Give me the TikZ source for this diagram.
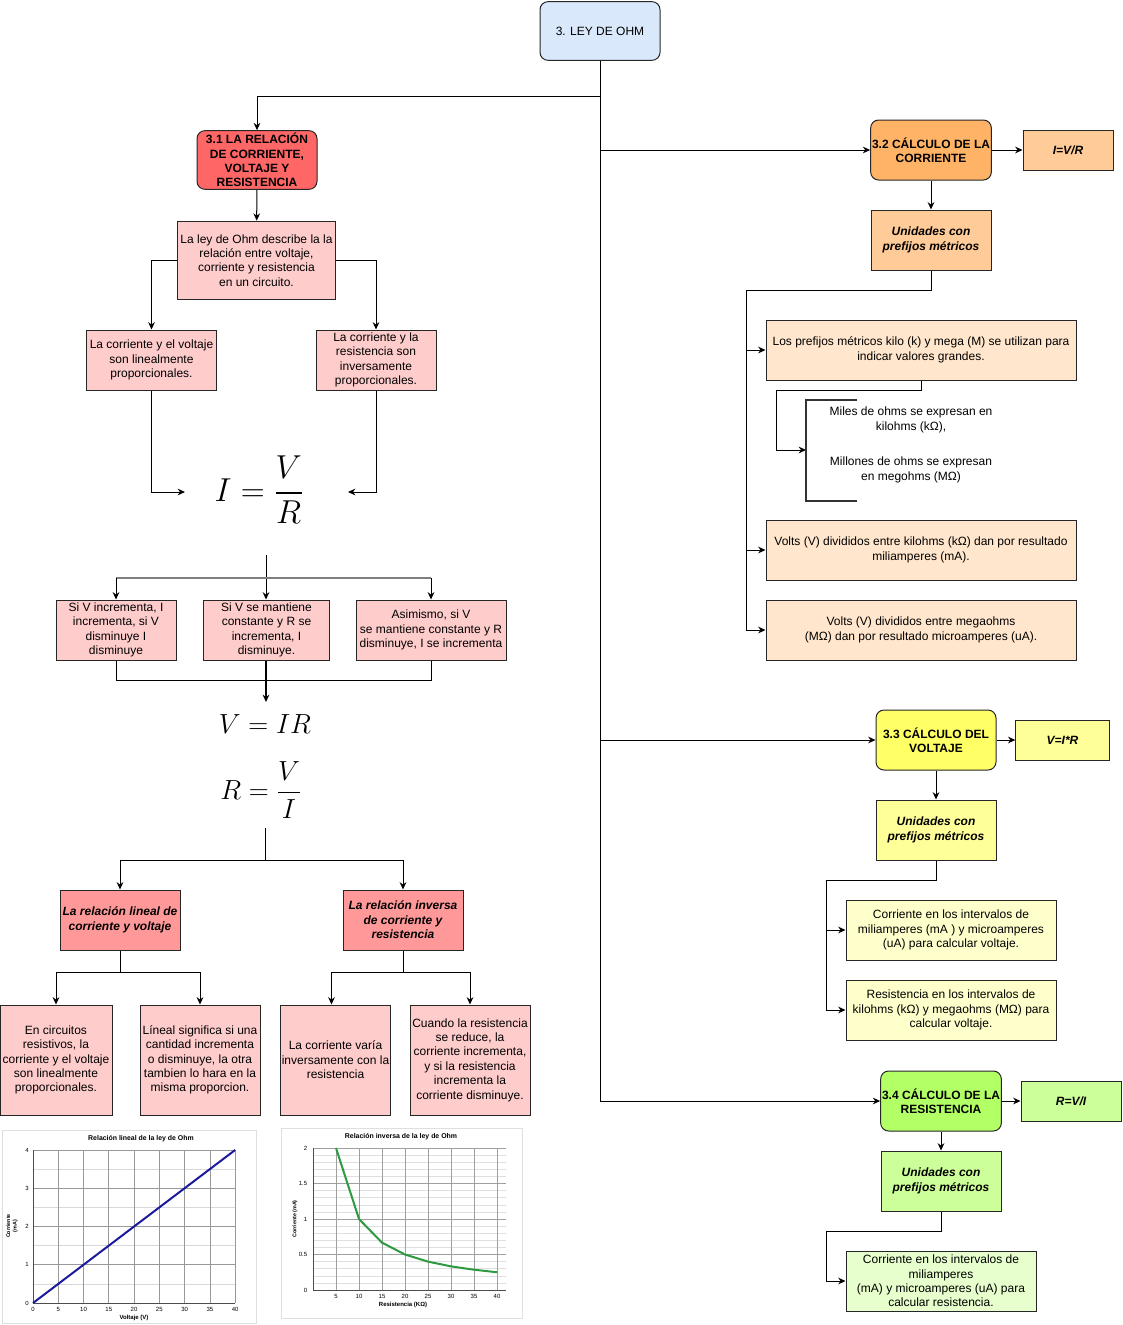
\documentclass[tikz,border=0pt]{standalone}
\usepackage{amsmath}
\usepackage{fontspec}
\setmainfont{Liberation Sans}
\usetikzlibrary{positioning, arrows.meta}
\usepackage{xcolor}
\definecolor{ohmblue}{HTML}{DAE8FC}
\definecolor{redhead}{HTML}{FF6666}
\definecolor{pinkbox}{HTML}{FFCCCC}
\definecolor{redsub}{HTML}{FF9999}
\definecolor{orahead}{HTML}{FFB366}
\definecolor{orabox}{HTML}{FFCC99}
\definecolor{orapale}{HTML}{FFE6CC}
\definecolor{yelhead}{HTML}{FFFF66}
\definecolor{yelbox}{HTML}{FFFF99}
\definecolor{yelpale}{HTML}{FFFFCC}
\definecolor{grnhead}{HTML}{B3FF66}
\definecolor{grnbox}{HTML}{CCFF99}
\definecolor{grnpale}{HTML}{E6FFCC}
\definecolor{linblue}{HTML}{1A1A9C}
\definecolor{invgreen}{HTML}{2E9A40}

\begin{document}
\begin{tikzpicture}[x=0.75pt, y=-0.75pt, line width=0.75pt,
    box/.style={draw=black!85, align=center, inner sep=1pt, font=\fontsize{9}{10.8}\selectfont},
    head/.style={box, rounded corners=6pt, font=\fontsize{9}{10.8}\selectfont\bfseries},
    sub/.style={box, font=\fontsize{9}{10.8}\selectfont\bfseries\itshape},
    plain/.style={align=center, inner sep=1pt, font=\fontsize{9}{10.8}\selectfont},
    eq/.style={inner sep=0pt},
    arr/.style={-{Stealth[length=5.5pt, width=5pt]}},
    chart/.style={font=\fontsize{4.5}{5.4}\selectfont, inner sep=0.5pt},
    charttitle/.style={font=\fontsize{5.2}{6}\selectfont\bfseries, inner sep=0.5pt}]

        \useasboundingbox (0,0) rectangle (1123,1325);

        % Nodes
        \node[head, fill=ohmblue, font=\fontsize{9}{10.8}\selectfont, minimum width=90pt, minimum height=44pt] (ley) at (600,31) {3. LEY DE OHM};

        \node[head, fill=redhead, minimum width=90pt, minimum height=44pt] (r31) at (257,160) {3.1 LA RELACIÓN\\DE CORRIENTE,\\VOLTAJE Y\\RESISTENCIA};
        \node[box, fill=pinkbox, minimum width=119pt, minimum height=59pt] (ohmdesc) at (256.5,260.5) {La ley de Ohm describe la la\\relación entre voltaje,\\corriente y resistencia\\en un circuito.};
        \node[box, fill=pinkbox, minimum width=97pt, minimum height=45pt] (linprop) at (151.5,360) {La corriente y el voltaje\\son linealmente\\proporcionales.};
        \node[box, fill=pinkbox, minimum width=90pt, minimum height=45pt] (invprop) at (376,360) {La corriente y la\\resistencia son\\inversamente\\proporcionales.};
        \node[eq, font=\fontsize{24}{28}\selectfont] (eqI) at (259,490) {$I = \dfrac{V}{R}$};

        \node[box, fill=pinkbox, minimum width=90pt, minimum height=45pt] (si1) at (116,630) {Si V incrementa, I\\incrementa, si V\\disminuye I\\disminuye};
        \node[box, fill=pinkbox, minimum width=94pt, minimum height=45pt] (si2) at (266.5,630) {Si V se mantiene\\constante y R se\\incrementa, I\\disminuye.};
        \node[box, fill=pinkbox, minimum width=112.5pt, minimum height=45pt] (si3) at (431,630) {Asimismo, si V\\se mantiene constante y R\\disminuye, I se incrementa};
        \node[eq, font=\fontsize{20}{24}\selectfont] (eqV) at (265,724) {$V = IR$};
        \node[eq, font=\fontsize{20}{24}\selectfont] (eqR) at (261,790) {$R = \dfrac{V}{I}$};

        \node[sub, fill=redsub, minimum width=90pt, minimum height=45pt] (linrel) at (120,920) {La relación lineal de\\corriente y voltaje};
        \node[sub, fill=redsub, minimum width=90pt, minimum height=45pt] (invrel) at (403,920) {La relación inversa\\de corriente y\\resistencia};
        \node[box, fill=pinkbox, minimum width=84pt, minimum height=82.5pt] (leaf1) at (56,1060) {En circuitos\\resistivos, la\\corriente y el voltaje\\son linealmente\\proporcionales.};
        \node[box, fill=pinkbox, minimum width=90pt, minimum height=82.5pt] (leaf2) at (200,1060) {Líneal significa si una\\cantidad incrementa\\o disminuye, la otra\\tambien lo hara en la\\misma proporcion.};
        \node[box, fill=pinkbox, minimum width=83pt, minimum height=82.5pt] (leaf3) at (335.5,1060) {La corriente varía\\inversamente con la\\resistencia};
        \node[box, fill=pinkbox, minimum width=90pt, minimum height=82.5pt] (leaf4) at (470,1060) {Cuando la resistencia\\se reduce, la\\corriente incrementa,\\y si la resistencia\\incrementa la\\corriente disminuye.};

        \node[head, fill=orahead, minimum width=90pt, minimum height=45pt] (c32) at (931,150) {3.2 CÁLCULO DE LA\\CORRIENTE};
        \node[sub, fill=orabox, minimum width=67.5pt, minimum height=30pt] (fI) at (1068,150) {I=V/R};
        \node[sub, fill=orabox, minimum width=90pt, minimum height=45pt] (u32) at (931,240) {Unidades con\\prefijos métricos};
        \node[box, fill=orapale, minimum width=232.5pt, minimum height=45pt] (p1) at (921,350) {Los prefijos métricos kilo (k) y mega (M) se utilizan para\\indicar valores grandes.};
        \node[plain] (kilo) at (911,420) {Miles de ohms se expresan en\\kilohms (kΩ),};
        \node[plain] (mega) at (911,470) {Millones de ohms se expresan\\en megohms (MΩ)};
        \node[box, fill=orapale, minimum width=232.5pt, minimum height=45pt] (p2) at (921,550) {Volts (V) divididos entre kilohms (kΩ) dan por resultado\\miliamperes (mA).};
        \node[box, fill=orapale, minimum width=232.5pt, minimum height=45pt] (p3) at (921,630) {Volts (V) divididos entre megaohms\\(MΩ) dan por resultado microamperes (uA).};

        \node[head, fill=yelhead, minimum width=90pt, minimum height=45pt] (c33) at (936,740) {3.3 CÁLCULO DEL\\VOLTAJE};
        \node[sub, fill=yelbox, minimum width=70pt, minimum height=30pt] (fV) at (1062.5,740) {V=I*R};
        \node[sub, fill=yelbox, minimum width=90pt, minimum height=45pt] (u33) at (936,830) {Unidades con\\prefijos métricos};
        \node[box, fill=yelpale, minimum width=157.5pt, minimum height=45pt] (v1) at (951,930) {Corriente en los intervalos de\\miliamperes (mA ) y microamperes\\(uA) para calcular voltaje.};
        \node[box, fill=yelpale, minimum width=157.5pt, minimum height=45pt] (v2) at (951,1010) {Resistencia en los intervalos de\\kilohms (kΩ) y megaohms (MΩ) para\\calcular voltaje.};

        \node[head, fill=grnhead, minimum width=90pt, minimum height=45pt] (c34) at (941,1101) {3.4 CÁLCULO DE LA\\RESISTENCIA};
        \node[sub, fill=grnbox, minimum width=75pt, minimum height=30pt] (fR) at (1071,1101) {R=V/I};
        \node[sub, fill=grnbox, minimum width=90pt, minimum height=45pt] (u34) at (941,1181) {Unidades con\\prefijos métricos};
        \node[box, fill=grnpale, minimum width=142.5pt, minimum height=45pt] (r1) at (941,1281) {Corriente en los intervalos de\\miliamperes\\(mA) y microamperes (uA) para\\calcular resistencia.};

        % Edges
        \coordinate (j31) at (600,96);
        \draw (ley.south) -- (ley.south |- c34.west);
        \draw[arr] (j31) -| (r31.north);
        \draw[arr] (ley.south |- c32.west) -- (c32.west);
        \draw[arr] (ley.south |- c33.west) -- (c33.west);
        \draw[arr] (ley.south |- c34.west) -- (c34.west);

        \draw[arr] (r31) -- (ohmdesc);
        \draw[arr] (ohmdesc.west) -| (linprop.north);
        \draw[arr] (ohmdesc.east) -| (invprop.north);
        \coordinate (eqIl) at (185,492);
        \coordinate (eqIr) at (348,492);
        \draw[arr] (linprop.south) |- (eqIl);
        \draw[arr] (invprop.south) |- (eqIr);

        \coordinate (eqIb) at (266,555);
        \coordinate (bar1) at (266,578);
        \draw[arr] (eqIb) -- (eqIb |- si2.north);
        \draw[gray, line width=1pt] (si1.north |- bar1) -- (si3.north |- bar1);
        \draw[arr] (si1.north |- bar1) -- (si1.north);
        \draw[arr] (si3.north |- bar1) -- (si3.north);

        \coordinate (m3) at (266,680);
        \coordinate (eqVt) at (266,702);
        \draw (si1.south) |- (m3);
        \draw (si3.south) |- (m3);
        \draw[arr, line width=1.2pt] (m3 |- si2.south) -- (eqVt);

        \coordinate (eqRb) at (265,828);
        \coordinate (j2) at (265,860);
        \draw (eqRb) -- (j2);
        \draw[arr] (j2) -| (linrel.north);
        \draw[arr] (j2) -| (invrel.north);

        \coordinate (j3) at (120,972);
        \coordinate (j4) at (403,972);
        \draw (linrel.south) -- (j3);
        \draw (invrel.south) -- (j4);
        \draw[arr] (j3) -| (leaf1.north);
        \draw[arr] (j3) -| (leaf2.north);
        \draw[arr] (j4) -| ([xshift=-3pt]leaf3.north);
        \draw[arr] (j4) -| (leaf4.north);

        \draw[arr] (c32) -- (fI);
        \draw[arr] (c32) -- (u32);
        \coordinate (k32) at (746,290);
        \draw (u32.south) |- (k32);
        \draw (k32) -- (k32 |- p3.west);
        \draw[arr] (k32 |- p1.west) -- (p1.west);
        \draw[arr] (k32 |- p2.west) -- (p2.west);
        \draw[arr] (k32 |- p3.west) -- (p3.west);
        \coordinate (k1) at (776,390);
        \coordinate (brk) at (806,450);
        \draw (p1.south) |- (k1);
        \draw[arr] (k1) |- (brk);
        \draw[black!80, line width=1.5pt] (857,400) -| (806,501) -- (857,501);

        \draw[arr] (c33) -- (fV);
        \draw[arr] (c33) -- (u33);
        \coordinate (k33) at (826,880);
        \draw (u33.south) |- (k33);
        \draw (k33) -- (k33 |- v2.west);
        \draw[arr] (k33 |- v1.west) -- (v1.west);
        \draw[arr] (k33 |- v2.west) -- (v2.west);

        \draw[arr] (c34) -- (fR);
        \draw[arr] (c34) -- (u34);
        \coordinate (k34) at (826,1231);
        \draw (u34.south) |- (k34);
        \draw[arr] (k34) |- (r1.west);

        % Chart: linear
        \draw[gray!25] (2,1130) rectangle (256,1323);
        \node[charttitle] (lintitle) at (141,1139) {Relación lineal de la ley de Ohm};
        \begin{scope}[shift={(33,1303)}, x=3.79pt, y=28.69pt]
            \foreach \v in {0.5,1.5,2.5,3.5} \draw[gray!30, line width=0.4pt] (0,\v) -- (40,\v);
            \foreach \v in {1,2,3,4} \draw[gray!80, line width=0.5pt] (0,\v) -- (40,\v);
            \foreach \u in {5,10,...,40} \draw[gray!80, line width=0.5pt] (\u,0) -- (\u,4);
            \draw[black!70, line width=0.5pt] (0,4) -- (0,0) -- (40,0);
            \foreach \u in {0,5,...,40} \node[chart, anchor=north] at (\u,-0.08) {\u};
            \foreach \v in {0,...,4} \node[chart, anchor=east] at (-0.6,\v) {\v};
            \draw[linblue, line width=1.5pt] (0,0) -- (40,4);
        \end{scope}
        \node[chart, rotate=90, align=center, font=\fontsize{4}{4.8}\selectfont\bfseries] (linylabel) at (12,1226) {Corriente\\(mA)};
        \node[chart, font=\fontsize{4.5}{5.4}\selectfont\bfseries] (linxlabel) at (134,1318) {Voltaje (V)};

        % Chart: inverse
        \draw[gray!25] (281,1128) rectangle (522,1318);
        \node[charttitle] (invtitle) at (401,1137) {Relación inversa de la ley de Ohm};
        \begin{scope}[shift={(313,1290)}, x=3.45pt, y=53.25pt]
            \foreach \v in {0.1,0.2,...,2.0} \draw[gray!25, line width=0.4pt] (0,\v) -- (42,\v);
            \foreach \v in {0.5,1,1.5,2} \draw[gray!75, line width=0.5pt] (0,\v) -- (42,\v);
            \foreach \u in {5,10,...,40} \draw[gray!75, line width=0.5pt] (\u,0) -- (\u,2);
            \draw[black!70, line width=0.5pt] (0,2) -- (0,0) -- (42,0);
            \foreach \u in {5,10,...,40} \node[chart, anchor=north] at (\u,-0.05) {\u};
            \foreach \v in {0,0.5,1,1.5,2} \node[chart, anchor=east] at (-1,\v) {\v};
            \draw[invgreen, line width=1.5pt] plot coordinates {(5,2) (10,1) (15,0.667) (20,0.5) (25,0.4) (30,0.333) (35,0.286) (40,0.25)};
        \end{scope}
        \node[chart, rotate=90, font=\fontsize{4}{4.8}\selectfont\bfseries] (invylabel) at (295,1219) {Corriente (mA)};
        \node[chart, font=\fontsize{4.5}{5.4}\selectfont\bfseries] (invxlabel) at (403,1305) {Resistencia (KΩ)};

        \end{tikzpicture}
\end{document}
